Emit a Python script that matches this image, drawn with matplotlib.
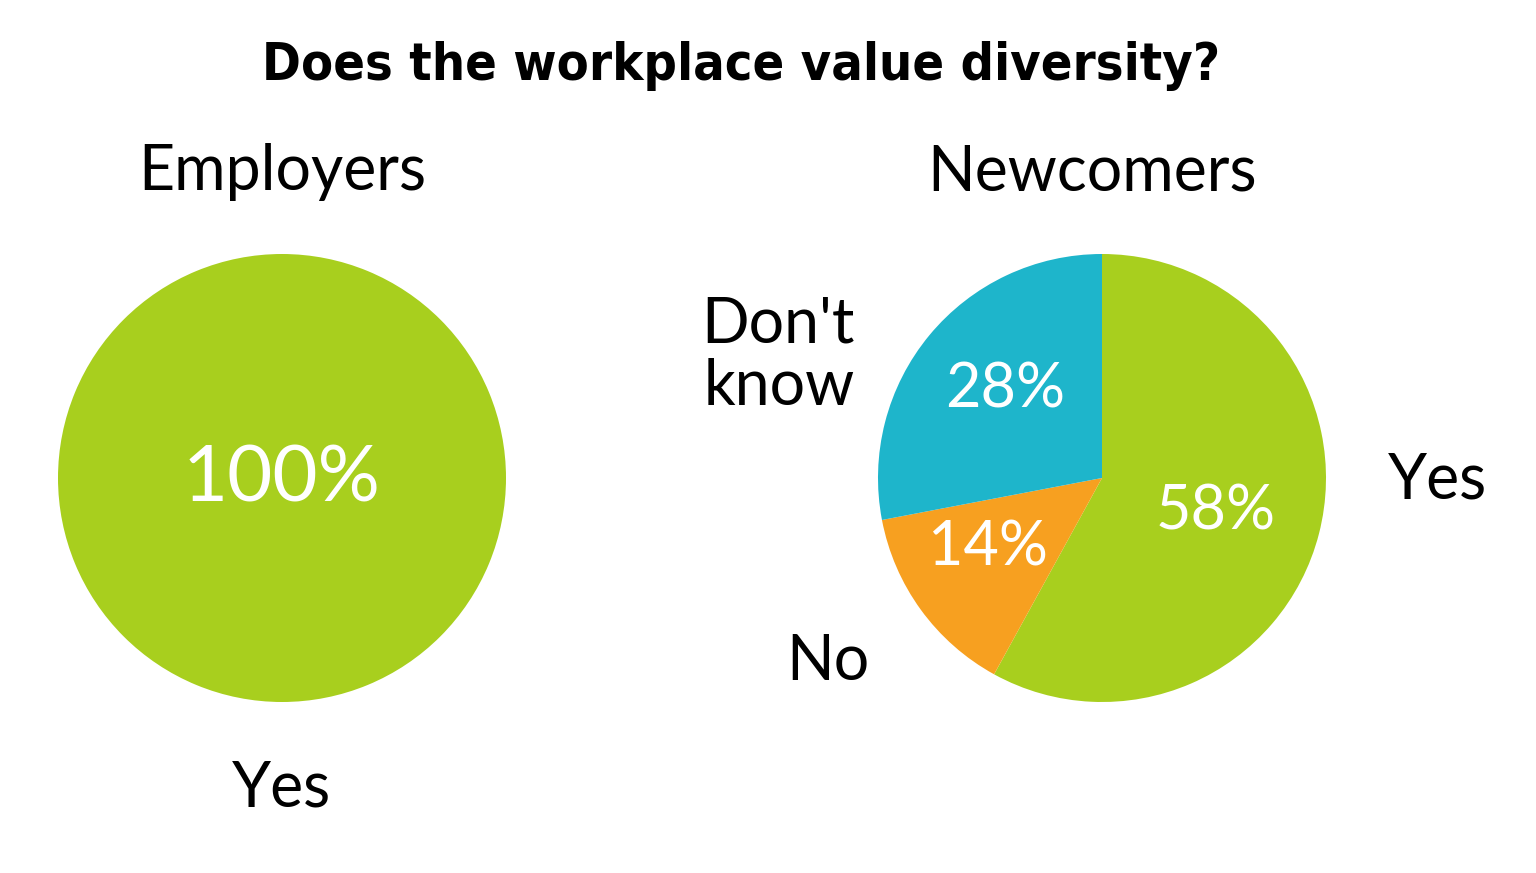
import matplotlib
matplotlib.use("Agg")
import matplotlib.pyplot as plt

# data
emp_labels = ["Yes"]
emp_values = [100]
new_labels = ["Yes", "No", "Don't\nknow"]
new_values = [58, 14, 28]

GREEN = "#A8CF1E"
ORANGE = "#F7A020"
BLUE = "#1EB5CB"

W, H = 1536, 873
fig = plt.figure(figsize=(W / 100, H / 100), dpi=100)
fig.patch.set_facecolor("white")

font = ["Lato", "DejaVu Sans"]
R = 224  # pie radius in px


def pie_axes(cx, cy):
    ax = fig.add_axes([(cx - R) / W, (H - cy - R) / H, 2 * R / W, 2 * R / H])
    return ax


# Employers
ax1 = pie_axes(282, 478)
ax1.pie(emp_values, colors=[GREEN], radius=1, startangle=90, counterclock=False,
        wedgeprops=dict(linewidth=0), frame=True)
ax1.set_xlim(-1, 1)
ax1.set_ylim(-1, 1)
ax1.axis("off")
ax1.text(0, -0.01, f"{emp_values[0]}%", color="white", fontsize=56, ha="center", va="center", family=font)
ax1.text(0, -1.384, emp_labels[0], color="black", fontsize=45, ha="center", va="center", family=font)
ax1.text(0, 1.366, "Employers", color="black", fontsize=45, ha="center", va="center", family=font)

# Newcomers
ax2 = pie_axes(1102, 478)
ax2.pie(new_values, colors=[GREEN, ORANGE, BLUE], radius=1, startangle=90, counterclock=False,
        wedgeprops=dict(linewidth=0), frame=True)
ax2.set_xlim(-1, 1)
ax2.set_ylim(-1, 1)
ax2.axis("off")

pct_pos = [(0.509, -0.152), (-0.509, -0.3125), (-0.433, 0.393)]
for (x, y), v in zip(pct_pos, new_values):
    ax2.text(x, y, f"{v}%", color="white", fontsize=44, ha="center", va="center", family=font)

ax2.text(1.5, -0.009, new_labels[0], fontsize=45, ha="center", va="center", family=font)
ax2.text(-1.223, -0.821, new_labels[1], fontsize=45, ha="center", va="center", family=font)
ax2.text(-1.103, 0.545, new_labels[2], fontsize=45, ha="right", va="center", family=font,
         linespacing=1.1)
ax2.text(-0.045, 1.366, "Newcomers", fontsize=45, ha="center", va="center", family=font)

fig.text(741 / W, 1 - 66 / H, "Does the workplace value diversity?", fontsize=37.5,
         fontweight="bold", fontstretch="condensed", ha="center", va="center",
         family=["DejaVu Sans"])

fig.savefig("out.png", dpi=100)
